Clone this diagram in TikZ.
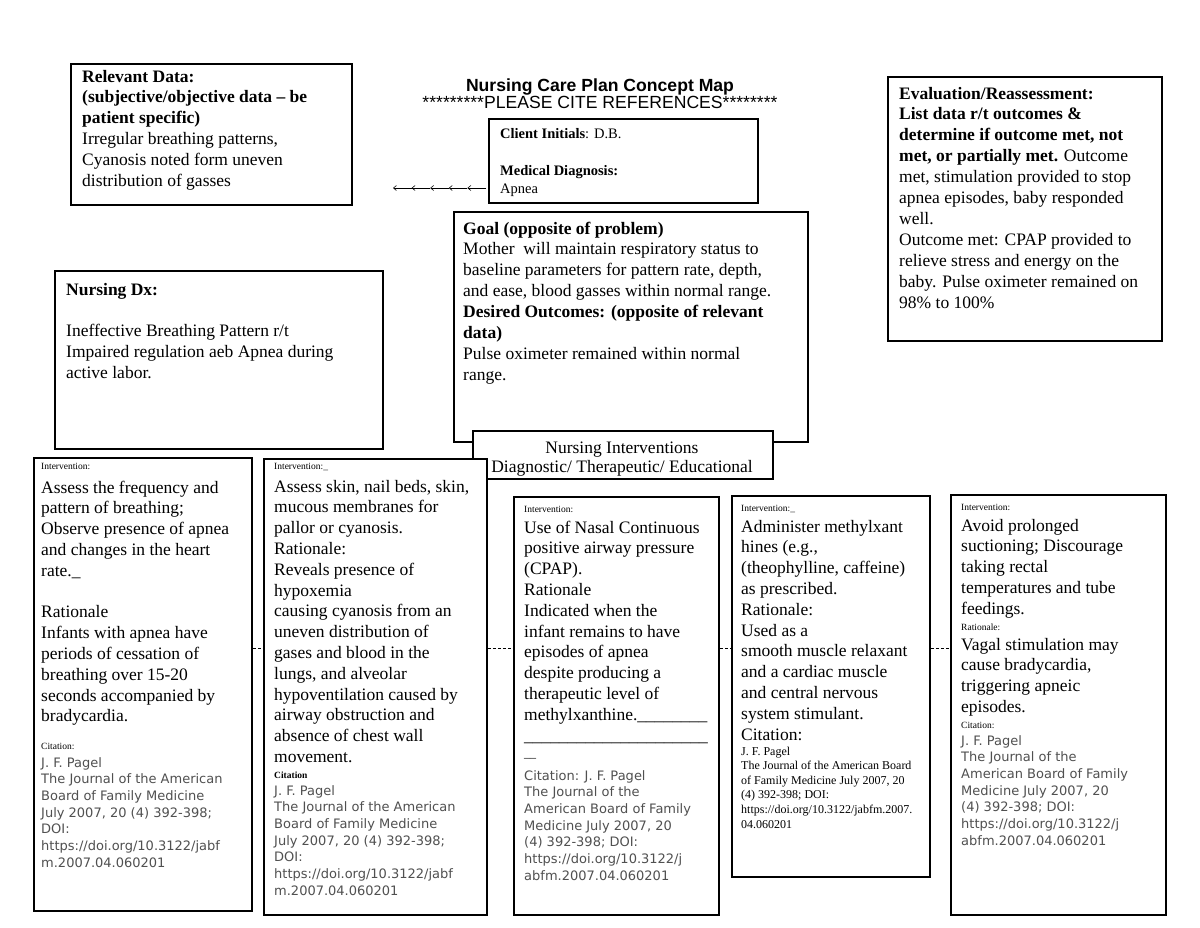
\documentclass[tikz,border=0pt]{standalone}
\usepackage{fontspec}
\setmainfont{Liberation Serif}
\newfontfamily\arialf{Liberation Sans}
\newfontfamily\verdf{DejaVu Sans}
\usetikzlibrary{arrows.meta}
\definecolor{citegray}{HTML}{505050}
\newcommand{\blk}[2]{\vtop{\baselineskip=#1\relax\lineskiplimit=-\maxdimen\lineskip=0pt\halign{##\hfil\cr#2\crcr}}}
\newcommand{\cblk}[2]{\vtop{\baselineskip=#1\relax\lineskiplimit=-\maxdimen\lineskip=0pt\halign{\hfil##\hfil\cr#2\crcr}}}
\newcommand{\bodyf}{\fontsize{17.5}{20.8}\selectfont}
\newcommand{\smallf}{\fontsize{9.5}{11}\selectfont}
\newcommand{\citef}{\verdf\fontsize{13}{16.7}\selectfont\color{citegray}}
\newcommand{\clientf}{\fontsize{14.5}{18.5}\selectfont}
\newcommand{\tinyserif}{\fontsize{12}{14.6}\selectfont}
\tikzset{
  box/.style={draw=black, line width=1.8pt, fill=white, inner sep=0pt, anchor=north west},
  txt/.style={inner sep=0pt, anchor=base west},
  dconn/.style={dash pattern=on 3pt off 2pt, line width=0.8pt},
  harr/.style={line width=0.6pt, -{Straight Barb[length=3pt,width=5pt]}}
}
\begin{document}
\begin{tikzpicture}[x=1pt,y=-1pt]
\useasboundingbox (0,0) rectangle (1200,927);
\fill[white] (0,0) rectangle (1200,927);

% title
\node[inner sep=0pt, anchor=base] (title1) at (600,91) {\arialf\bfseries\fontsize{17.6}{20}\selectfont Nursing Care Plan Concept Map};
\node[inner sep=0pt, anchor=base] (title2) at (600,108) {\arialf\fontsize{17.6}{20}\selectfont *********PLEASE CITE REFERENCES********};

% relevant data
\node[box, minimum width=281pt, minimum height=141pt] (rel) at (70,63) {};
\node[txt] (relT) at (82,82) {\bodyf\blk{20.8pt}{\textbf{Relevant Data:}\cr
\textbf{(subjective/objective data -- be}\cr
\textbf{patient specific)}\cr
Irregular breathing patterns,\cr
Cyanosis noted form uneven\cr
distribution of gasses\cr}};

% client
\node[box, minimum width=269pt, minimum height=84pt] (client) at (488,118) {};
\node[txt] (clientT) at (500,138) {\clientf\blk{18.5pt}{\textbf{Client Initials}: D.B.\cr
\cr
\textbf{Medical Diagnosis:}\cr
Apnea\cr}};

% arrows
\coordinate (ay) at (0,188);
\coordinate (a1) at (467.4,188);
\coordinate (a2) at (448.8,188);
\coordinate (a3) at (430.2,188);
\coordinate (a4) at (411.6,188);
\coordinate (a5) at (393,188);
\draw[harr] ([xshift=-2pt]client.west |- ay) -- (a1);
\draw[harr] (a1) -- (a2);
\draw[harr] (a2) -- (a3);
\draw[harr] (a3) -- (a4);
\draw[harr] (a4) -- (a5);

% evaluation
\node[box, minimum width=274pt, minimum height=264pt] (eval) at (887,76) {};
\node[txt] (evalT) at (899,99) {\bodyf\blk{20.9pt}{\textbf{Evaluation/Reassessment:}\cr
\textbf{List data r/t outcomes \&}\cr
\textbf{determine if outcome met, not}\cr
\textbf{met, or partially met.} Outcome\cr
met, stimulation provided to stop\cr
apnea episodes, baby responded\cr
well.\cr
Outcome met: CPAP provided to\cr
relieve stress and energy on the\cr
baby. Pulse oximeter remained on\cr
98\% to 100\%\cr}};

% goal
\node[box, minimum width=354pt, minimum height=230pt] (goal) at (453,211) {};
\node[txt] (goalT) at (463,234) {\bodyf\blk{20.9pt}{\textbf{Goal (opposite of problem)}\cr
Mother\ \ will maintain respiratory status to\cr
baseline parameters for pattern rate, depth,\cr
and ease, blood gasses within normal range.\cr
\textbf{Desired Outcomes: (opposite of relevant}\cr
\textbf{data)}\cr
Pulse oximeter remained within normal\cr
range.\cr}};

% nursing dx
\node[box, minimum width=328pt, minimum height=178pt] (dx) at (54,270) {};
\node[txt] (dxT) at (66,295) {\bodyf\blk{20.8pt}{\textbf{Nursing Dx:}\cr
\cr
Ineffective Breathing Pattern r/t\cr
Impaired regulation aeb Apnea during\cr
active labor.\cr}};

% nursing interventions
\node[box, minimum width=300pt, minimum height=48pt] (ni) at (472,430) {};
\node[inner sep=0pt, anchor=base] (niT) at (622,453) {\bodyf\cblk{19pt}{Nursing Interventions\cr
Diagnostic/ Therapeutic/ Educational\cr}};

% intervention 1
\node[box, minimum width=218pt, minimum height=453pt] (b1) at (33,457) {};
\node[txt] (b1a) at (41,469) {\smallf Intervention:};
\node[txt] (b1b) at (41,493) {\bodyf\blk{20.8pt}{Assess the frequency and\cr
pattern of breathing;\cr
Observe presence of apnea\cr
and changes in the heart\cr
rate.\_\cr
\cr
Rationale\cr
Infants with apnea have\cr
periods of cessation of\cr
breathing over 15-20\cr
seconds accompanied by\cr
bradycardia.\cr}};
\node[txt] (b1c) at (41,749) {\smallf Citation:};
\node[txt] (b1d) at (41,767) {\citef\blk{16.7pt}{J. F. Pagel\cr
The Journal of the American\cr
Board of Family Medicine\cr
July 2007, 20 (4) 392-398;\cr
DOI:\cr
https://doi.org/10.3122/jabf\cr
m.2007.04.060201\cr}};

% intervention 2
\node[box, minimum width=223pt, minimum height=456pt] (b2) at (263,458) {};
\node[txt] (b2a) at (274,469) {\smallf Intervention:\_};
\node[txt] (b2b) at (274,492) {\bodyf\blk{20.8pt}{Assess skin, nail beds, skin,\cr
mucous membranes for\cr
pallor or cyanosis.\cr
Rationale:\cr
Reveals presence of\cr
hypoxemia\cr
causing cyanosis from an\cr
uneven distribution of\cr
gases and blood in the\cr
lungs, and alveolar\cr
hypoventilation caused by\cr
airway obstruction and\cr
absence of chest wall\cr
movement.\cr}};
\node[txt] (b2c) at (274,778) {\smallf\bfseries Citation};
\node[txt] (b2d) at (274,795) {\citef\blk{16.7pt}{J. F. Pagel\cr
The Journal of the American\cr
Board of Family Medicine\cr
July 2007, 20 (4) 392-398;\cr
DOI:\cr
https://doi.org/10.3122/jabf\cr
m.2007.04.060201\cr}};

% intervention 3
\node[box, minimum width=205pt, minimum height=418pt] (b3) at (513,496) {};
\node[txt] (b3a) at (524,512) {\smallf Intervention:};
\node[txt] (b3b) at (524,533) {\bodyf\blk{20.8pt}{Use of Nasal Continuous\cr
positive airway pressure\cr
(CPAP).\cr
Rationale\cr
Indicated when the\cr
infant remains to have\cr
episodes of apnea\cr
despite producing a\cr
therapeutic level of\cr
methylxanthine.\_\_\_\_\_\_\_\_\cr
\_\_\_\_\_\_\_\_\_\_\_\_\_\_\_\_\_\_\_\_\_\cr}};
\node[txt] (b3u) at (524,757) {\fontsize{12}{14}\selectfont\_\_};
\node[txt] (b3d) at (524,780) {\citef\blk{16.7pt}{Citation: J. F. Pagel\cr
The Journal of the\cr
American Board of Family\cr
Medicine July 2007, 20\cr
(4) 392-398; DOI:\cr
https://doi.org/10.3122/j\cr
abfm.2007.04.060201\cr}};

% intervention 4
\node[box, minimum width=198pt, minimum height=381pt] (b4) at (731,495) {};
\node[txt] (b4a) at (741,511) {\smallf Intervention:\_};
\node[txt] (b4b) at (741,532) {\bodyf\blk{20.8pt}{Administer methylxant\cr
hines (e.g.,\cr
(theophylline, caffeine)\cr
as prescribed.\cr
Rationale:\cr
Used as a\cr
smooth muscle relaxant\cr
and a cardiac muscle\cr
and central nervous\cr
system stimulant.\cr
Citation:\cr}};
\node[txt] (b4d) at (741,755) {\tinyserif\blk{14.6pt}{J. F. Pagel\cr
The Journal of the American Board\cr
of Family Medicine July 2007, 20\cr
(4) 392-398; DOI:\cr
https://doi.org/10.3122/jabfm.2007.\cr
04.060201\cr}};

% intervention 5
\node[box, minimum width=215pt, minimum height=420pt] (b5) at (950,494) {};
\node[txt] (b5a) at (961,510) {\smallf Intervention:};
\node[txt] (b5b) at (961,531) {\bodyf\blk{20.8pt}{Avoid prolonged\cr
suctioning; Discourage\cr
taking rectal\cr
temperatures and tube\cr
feedings.\cr}};
\node[txt] (b5c) at (961,630) {\smallf Rationale:};
\node[txt] (b5e) at (961,650) {\bodyf\blk{20.8pt}{Vagal stimulation may\cr
cause bradycardia,\cr
triggering apneic\cr
episodes.\cr}};
\node[txt] (b5f) at (961,728) {\smallf Citation:};
\node[txt] (b5d) at (961,745) {\citef\blk{16.7pt}{J. F. Pagel\cr
The Journal of the\cr
American Board of Family\cr
Medicine July 2007, 20\cr
(4) 392-398; DOI:\cr
https://doi.org/10.3122/j\cr
abfm.2007.04.060201\cr}};

% dashed connectors
\coordinate (dy) at (0,648);
\draw[dconn] (b1.east |- dy) -- (b2.west |- dy);
\draw[dconn] (b2.east |- dy) -- (b3.west |- dy);
\draw[dconn] (b3.east |- dy) -- (b4.west |- dy);
\draw[dconn] (b4.east |- dy) -- (b5.west |- dy);
\end{tikzpicture}
\end{document}
